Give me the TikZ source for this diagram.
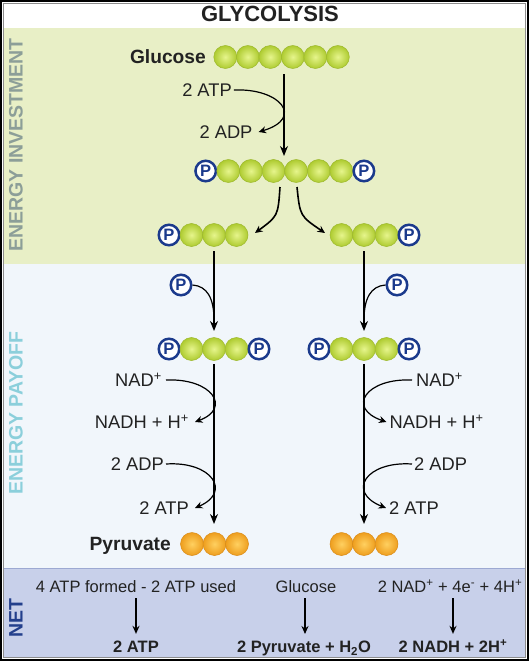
\documentclass[tikz,border=0pt]{standalone}
\usepackage{fontspec}
\setmainfont{Liberation Sans}
\usetikzlibrary{arrows.meta}
\definecolor{investbg}{HTML}{E8EFC6}
\definecolor{payoffbg}{HTML}{F1F6FB}
\definecolor{netbg}{HTML}{C8D0EA}
\definecolor{netline}{HTML}{9DA9D2}
\definecolor{investtxt}{HTML}{8C9E98}
\definecolor{payofftxt}{HTML}{8BCFDB}
\definecolor{nettxt}{HTML}{233F8C}
\definecolor{pblue}{HTML}{1B3A8C}
\definecolor{ginner}{HTML}{E6F58C}
\definecolor{gouter}{HTML}{AECB30}
\definecolor{gedge}{HTML}{9CB82C}
\definecolor{oinner}{HTML}{FFD060}
\definecolor{oouter}{HTML}{EE9E1E}
\definecolor{oedge}{HTML}{D98A14}
\definecolor{txt}{HTML}{222222}
\begin{document}
\begin{tikzpicture}[x=1pt,y=-1pt,
  gball/.style={circle,minimum size=23pt,inner sep=0pt,inner color=ginner,outer color=gouter,draw=gedge,line width=0.5pt},
  oball/.style={circle,minimum size=23pt,inner sep=0pt,inner color=oinner,outer color=oouter,draw=oedge,line width=0.5pt},
  pcirc/.style={circle,minimum size=20.5pt,inner sep=0pt,fill=white,draw=pblue,line width=2.5pt,text=pblue,font=\fontsize{16.5}{16.5}\selectfont\bfseries},
  lbl/.style={inner sep=0pt,text=txt,font=\fontsize{18.3}{20}\selectfont,text height=13.1pt,text depth=0pt},
  blbl/.style={inner sep=0pt,text=txt,font=\fontsize{19.2}{20}\selectfont\bfseries,text height=13.7pt,text depth=0pt},
  netlbl/.style={inner sep=0pt,text=txt,font=\fontsize{16.5}{18}\selectfont,text height=11.9pt,text depth=0pt},
  netblbl/.style={netlbl,font=\fontsize{16.5}{18}\selectfont\bfseries},
  vlbl/.style={inner sep=0pt,rotate=90,font=\fontsize{19.5}{20}\selectfont\bfseries},
  mainarr/.style={line width=1.9pt,-{Stealth[length=10pt,width=8pt]}},
  curvarr/.style={line width=1.2pt,-{Stealth[length=7.5pt,width=7pt]}},
  curvline/.style={line width=1.2pt},
  netarr/.style={line width=1.5pt,-{Stealth[length=8pt,width=7pt]}}
]
\useasboundingbox (0,0) rectangle (530,661);
% backgrounds
\fill[white] (0,0) rectangle (530,661);
\fill[investbg] (3,28) rectangle (525,264);
\fill[payoffbg] (3,264) rectangle (525,568);
\fill[netbg] (3,568) rectangle (525,657);
\draw[netline,line width=1pt] (3,568) -- (525,568);
% frame
\draw[black!45,line width=0.8pt] (3.2,3.2) rectangle (525.5,657.5);
\draw[black,line width=2.2pt] (1.1,1.1) rectangle (527.9,659.9);
% title
\node[inner sep=0pt,text=txt,font=\fontsize{22}{24}\selectfont\bfseries] (title) at (270,14) {GLYCOLYSIS};
% side labels
\node[vlbl,text=investtxt] (vinv) at (16,145) {ENERGY INVESTMENT};
\node[vlbl,text=payofftxt] (vpay) at (16,413) {ENERGY PAYOFF};
\node[vlbl,text=nettxt] (vnet) at (16,618) {NET};
% glucose
\node[blbl,anchor=east] (glc) at (206,57) {Glucose};
\foreach \i in {0,...,5} \node[gball] (g\i) at ({225.3+22.5*\i},57) {};
% first step
\coordinate (a1s) at (284,74);
\coordinate (a1e) at (284,156);
\draw[mainarr] (a1s) -- (a1e);
\node[lbl] (atp1) at (207,90) {2 ATP};
\node[lbl] (adp1) at (226,132) {2 ADP};
\draw[curvarr] ([xshift=2pt]atp1.east) .. controls (280,88) and (305,118) .. ([xshift=6pt]adp1.east);
% fructose bisphosphate
\node[pcirc] (pa) at (205.7,171) {P};
\foreach \i in {0,...,5} \node[gball] (f\i) at ({228.3+22.6*\i},171) {};
\node[pcirc] (pb) at (363.9,171) {P};
% split
\coordinate (sl) at (280,187);
\coordinate (sr) at (297,187);
\coordinate (el) at (255,233);
\coordinate (er) at (325,233);
\draw[curvarr,line width=1.6pt] (sl) .. controls (278,216) .. (el);
\draw[curvarr,line width=1.6pt] (sr) .. controls (300,216) .. (er);
% three-carbon pieces
\node[pcirc] (lp) at (169,235) {P};
\foreach \i in {0,1,2} \node[gball] (l\i) at ({191.5+22.5*\i},235) {};
\foreach \i in {0,1,2} \node[gball] (r\i) at ({341.5+22.5*\i},235) {};
\node[pcirc] (rp) at (409,235) {P};
% phosphate addition
\coordinate (v1s) at (214,251);
\coordinate (v1e) at (214,331);
\coordinate (v2s) at (364,251);
\coordinate (v2e) at (364,331);
\draw[mainarr] (v1s) -- (v1e);
\draw[mainarr] (v2s) -- (v2e);
\node[pcirc] (pin1) at (181,285) {P};
\node[pcirc] (pin2) at (397,285) {P};
\coordinate (j1) at (214,320);
\coordinate (j2) at (364,320);
\draw[curvline] (pin1.east) .. controls (207,286) and (214,298) .. (j1);
\draw[curvline] (pin2.west) .. controls (371,286) and (364,298) .. (j2);
% bisphosphoglycerate
\node[pcirc] (lp1) at (169,349) {P};
\foreach \i in {0,1,2} \node[gball] (m\i) at ({191.5+22.5*\i},349) {};
\node[pcirc] (lp2) at (259,349) {P};
\node[pcirc] (rp1) at (319,349) {P};
\foreach \i in {0,1,2} \node[gball] (n\i) at ({341.5+22.5*\i},349) {};
\node[pcirc] (rp2) at (409,349) {P};
% long arrows
\coordinate (w1s) at (214,364);
\coordinate (w1e) at (214,524);
\coordinate (w2s) at (364,364);
\coordinate (w2e) at (364,524);
\draw[mainarr] (w1s) -- (w1e);
\draw[mainarr] (w2s) -- (w2e);
% left labels
\node[lbl,anchor=east] (nadl) at (162,380) {NAD\textsuperscript{+}};
\node[lbl,anchor=east] (nadhl) at (189,422) {NADH + H\textsuperscript{+}};
\node[lbl,anchor=east] (adpl) at (164,464) {2 ADP};
\node[lbl,anchor=east] (atpl) at (189,508) {2 ATP};
\draw[curvarr] ([xshift=4pt]nadl.east) .. controls (212,378) and (232,408) .. ([xshift=6pt]nadhl.east);
\draw[curvarr] ([xshift=2pt]adpl.east) .. controls (212,461) and (232,492) .. ([xshift=6pt]atpl.east);
% right labels
\node[lbl,anchor=west] (nadr) at (416,380) {NAD\textsuperscript{+}};
\node[lbl,anchor=west] (nadhr) at (389.5,422) {NADH + H\textsuperscript{+}};
\node[lbl,anchor=west] (adpr) at (414,464) {2 ADP};
\node[lbl,anchor=west] (atpr) at (389,508) {2 ATP};
\draw[curvarr] ([xshift=-4pt]nadr.west) .. controls (366,378) and (346,408) .. ([xshift=-3pt]nadhr.west);
\draw[curvarr] ([xshift=-2pt]adpr.west) .. controls (366,461) and (346,492) .. ([xshift=-3pt]atpr.west);
% pyruvate
\node[blbl,anchor=east] (pyr) at (171,544) {Pyruvate};
\foreach \i in {0,1,2} \node[oball] (o\i) at ({192+22.5*\i},544) {};
\foreach \i in {0,1,2} \node[oball] (q\i) at ({341.5+22.5*\i},544) {};
% net
\node[netlbl] (nt1) at (136,587) {4 ATP formed - 2 ATP used};
\node[netlbl] (nt2) at (306,587) {Glucose};
\node[netlbl] (nt3) at (450,587) {2 NAD\textsuperscript{+} + 4e\textsuperscript{-} + 4H\textsuperscript{+}};
\node[netblbl] (nb1) at (136,647) {2 ATP};
\node[netblbl] (nb2) at (304,647) {2 Pyruvate + H\textsubscript{2}O};
\node[netblbl] (nb3) at (453,647) {2 NADH + 2H\textsuperscript{+}};
\draw[netarr] (nb1.north |- 0,598) -- ([yshift=7pt]nb1.north);
\draw[netarr] (305,598) -- (305,634);
\draw[netarr] (nb3.north |- 0,598) -- ([yshift=7pt]nb3.north);
\end{tikzpicture}
\end{document}
